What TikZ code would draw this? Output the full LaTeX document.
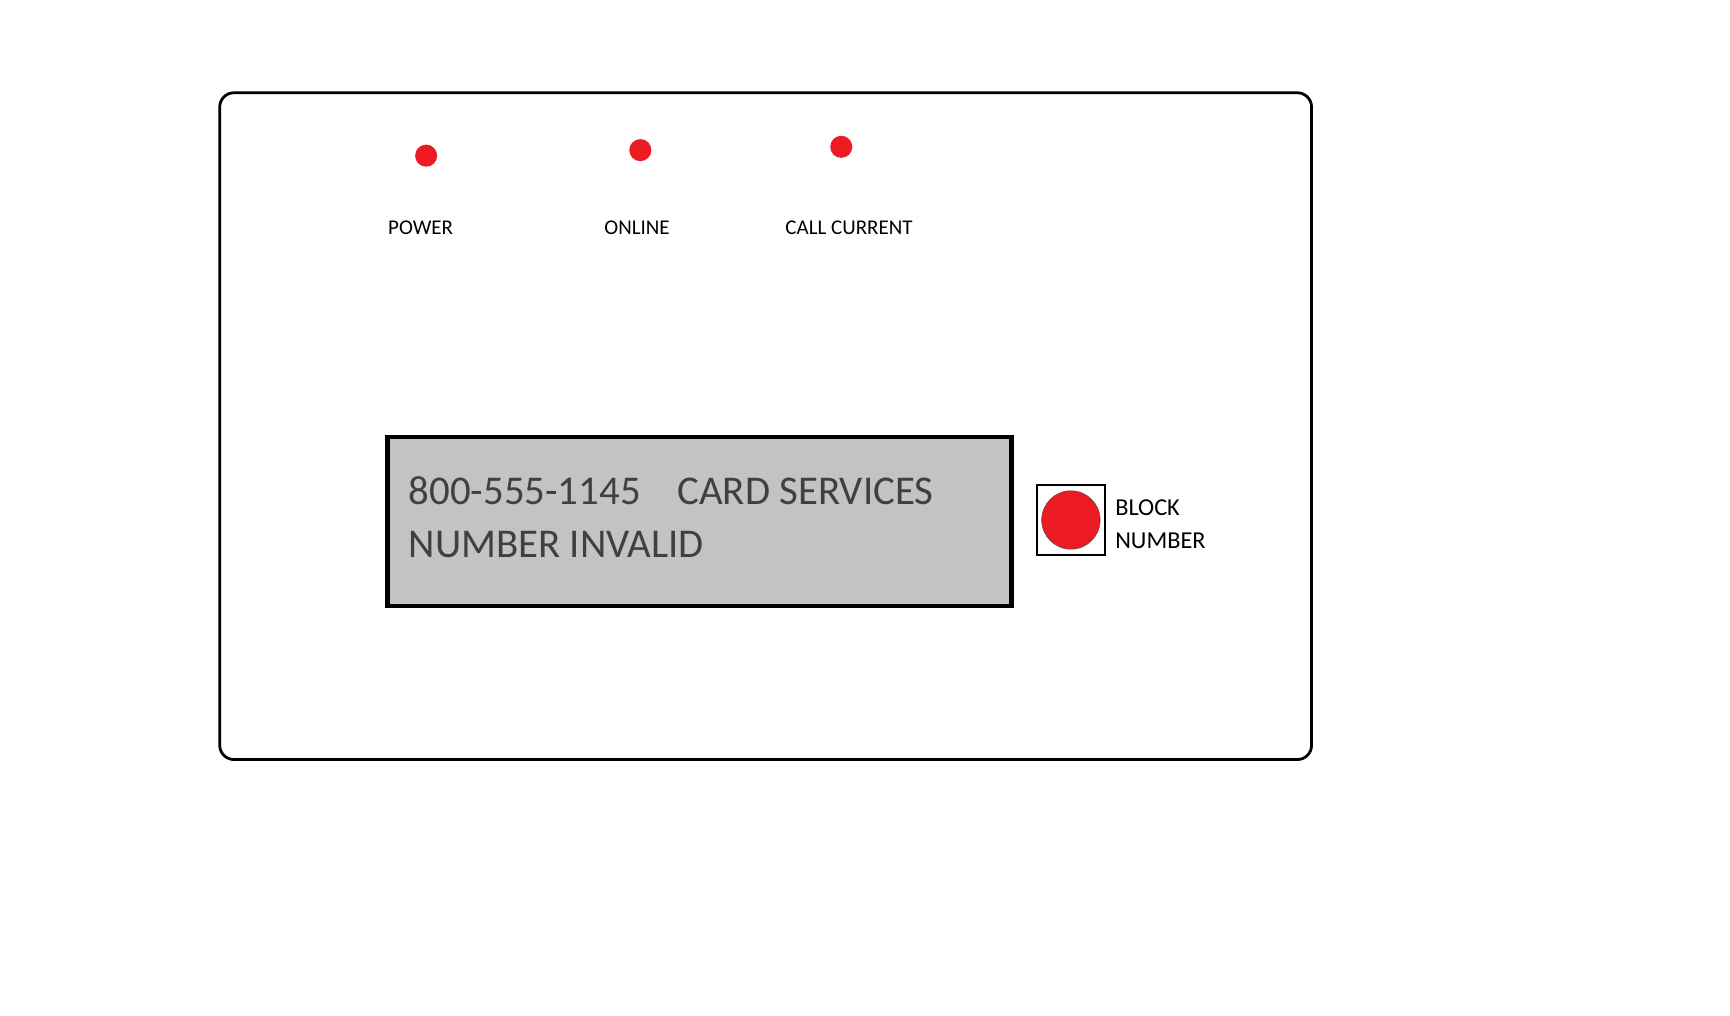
\documentclass[tikz,border=0pt]{standalone}
\usepackage{fontspec}
\setmainfont{Carlito}
\definecolor{ledred}{HTML}{ED1C24}
\definecolor{lcd}{HTML}{C3C3C3}
\definecolor{lcdtext}{HTML}{404040}
\begin{document}
\begin{tikzpicture}[x=1pt,y=-1pt,
  led/.style={circle,fill=ledred,minimum size=20pt,inner sep=0},
  lbl/.style={font=\fontsize{19}{23}\selectfont,inner sep=0,anchor=base},
  lcdline/.style={font=\fontsize{37}{44}\selectfont,text=lcdtext,inner sep=0,anchor=base west}]
\useasboundingbox (0,0) rectangle (1567,920);
\draw[line width=2.5pt,rounded corners=13pt] (199,84) rectangle (1188,688);
\node[led] (pled) at (386,141) {};
\node[led] (oled) at (580,136) {};
\node[led] (cled) at (762,133) {};
\node[lbl] (plbl) at (381,212) {POWER};
\node[lbl] (olbl) at (577,212) {ONLINE};
\node[lbl] (clbl) at (769,212) {CALL CURRENT};
\draw[line width=4pt,fill=lcd] (351,396) rectangle (916,549);
\node[lcdline] (l1) at (370,457) {800-555-1145\hspace{0.9em}CARD SERVICES};
\node[lcdline] (l2) at (370,505) {NUMBER INVALID};
\draw[line width=2pt] (939,439) rectangle (1001,503);
\node[circle,fill=ledred,draw=black!70,line width=0.4pt,minimum size=53pt,inner sep=0] (btn) at (970,471) {};
\node[lbl,anchor=base west,font=\fontsize{22}{26}\selectfont] (b1) at (1010,467) {BLOCK};
\node[lbl,anchor=base west,font=\fontsize{22}{26}\selectfont] (b2) at (1010,497) {NUMBER};
\end{tikzpicture}
\end{document}
